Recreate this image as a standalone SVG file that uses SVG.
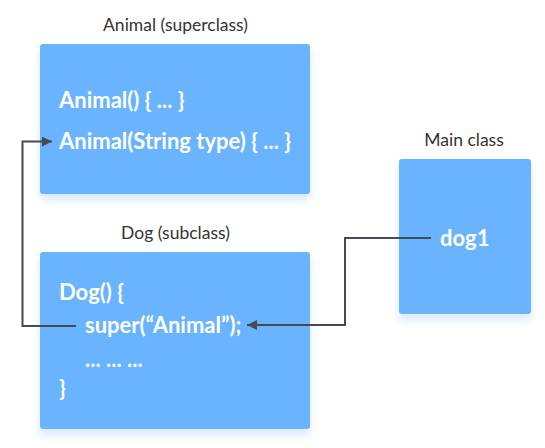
<svg xmlns="http://www.w3.org/2000/svg" width="545" height="448" viewBox="0 0 545 448">
<defs>
<filter id="sh" x="-10%" y="-10%" width="120%" height="130%">
<feDropShadow dx="0" dy="6" stdDeviation="4" flood-color="#cfe4fb" flood-opacity="0.8"/>
</filter>
<marker id="ah" markerWidth="10" markerHeight="10" refX="10" refY="5" orient="auto" markerUnits="userSpaceOnUse">
<path d="M0,0 L10,5 L0,10 Z" fill="#454b52"/>
</marker>
<style>
.box{fill:#69b3ff;filter:url(#sh)}
.lbl{font-family:Lato,"Open Sans",sans-serif;font-size:17.5px;fill:#333}
.code{font-family:Lato,"Open Sans",sans-serif;font-size:22px;font-weight:bold;fill:#fff}
.con{fill:none;stroke:#454b52;stroke-width:2}
</style>
</defs>
<rect width="545" height="448" fill="#fff"/>
<g id="animal">
<text class="lbl" x="175.5" y="31" text-anchor="middle">Animal (superclass)</text>
<rect class="box" x="40" y="44" width="270" height="150" rx="3"/>
<text class="code" x="59" y="108">Animal() { ... }</text>
<text class="code" x="59" y="149">Animal(String type) { ... }</text>
</g>
<g id="dog">
<text class="lbl" x="175.5" y="239" text-anchor="middle">Dog (subclass)</text>
<rect class="box" x="40" y="252" width="270" height="177" rx="3"/>
<text class="code" x="59" y="300">Dog() {</text>
<text class="code" x="85" y="333">super(“Animal”);</text>
<text class="code" x="85" y="367">... ... ...</text>
<text class="code" x="59" y="396">}</text>
</g>
<g id="main">
<text class="lbl" x="464" y="146" text-anchor="middle">Main class</text>
<rect class="box" x="399" y="159" width="132" height="155" rx="3"/>
<text class="code" x="440" y="246">dog1</text>
</g>
<g id="connectors">
<path class="con" d="M76,326 H22.5 V141.5 H52" marker-end="url(#ah)"/>
<path class="con" d="M431,238 H345 V325 H247" marker-end="url(#ah)"/>
</g>
</svg>
